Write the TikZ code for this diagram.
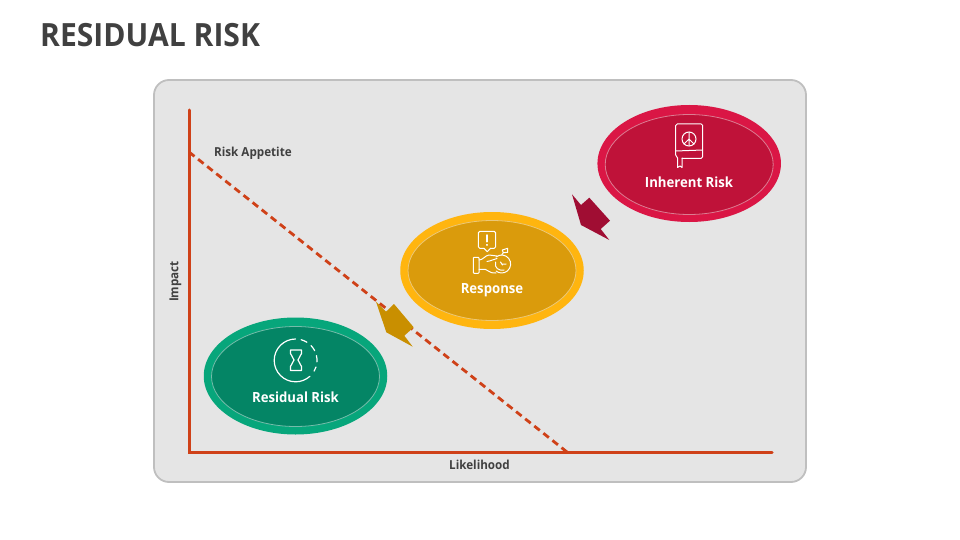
\documentclass[tikz,border=0pt]{standalone}
\usepackage{fontspec}
\setmainfont[FakeStretch=0.94]{Open Sans}
\usetikzlibrary{shapes.geometric}
\definecolor{titlegray}{HTML}{404040}
\definecolor{panelfill}{HTML}{E5E5E5}
\definecolor{panelline}{HTML}{BFBFBF}
\definecolor{axisred}{HTML}{CF4118}
\definecolor{inherentrim}{HTML}{DA1645}
\definecolor{inherentfill}{HTML}{BF1239}
\definecolor{inherentarrow}{HTML}{A00D33}
\definecolor{responserim}{HTML}{FFB50F}
\definecolor{responsefill}{HTML}{DA9B0C}
\definecolor{responsearrow}{HTML}{C98F00}
\definecolor{residualrim}{HTML}{07A67B}
\definecolor{residualfill}{HTML}{048565}
\newcommand{\ovalx}{183.5pt}
\newcommand{\ovaly}{117pt}
\newcommand{\innerx}{168pt}
\newcommand{\innery}{100pt}
\newcommand{\hourradius}{21.4pt}
\tikzset{
  riskoval/.style={ellipse,minimum width=\ovalx,minimum height=\ovaly,inner sep=0pt},
  ringoval/.style={ellipse,draw=white!45!#1,fill=#1,line width=0.8pt,minimum width=\innerx,minimum height=\innery,inner sep=0pt},
  ovallabel/.style={font=\bfseries\fontsize{14}{16}\selectfont,text=white,inner sep=0pt},
  axislabel/.style={font=\bfseries\fontsize{12.4}{14}\selectfont,text=titlegray,inner sep=0pt},
  axisline/.style={draw=axisred,line width=3pt,line cap=round},
  iconline/.style={draw=white,line width=1pt,line cap=round,line join=round},
}
\begin{document}
\begin{tikzpicture}[x=1pt,y=-1pt]
    \useasboundingbox (0,0) rectangle (960,540);
    \node[font=\bfseries\fontsize{32}{36}\selectfont,text=titlegray,anchor=west,inner sep=0pt] (title) at (40,35) {RESIDUAL RISK};
    % grey panel
    \draw[fill=panelfill,draw=panelline,line width=1.8pt,rounded corners=15pt] (154,80) rectangle (806,482);
    % axes
    \coordinate (origin) at (189,452);
    \coordinate (impacttop) at (189,110);
    \coordinate (likelihoodend) at (772,452);
    \coordinate (appetitetop) at (189,152);
    \coordinate (appetitebottom) at (567,452);
    \draw[draw=axisred,line width=2.8pt,dash pattern=on 7pt off 4.6pt] (appetitetop) -- (appetitebottom);
    \draw[axisline] (impacttop) -- (origin) -- (likelihoodend);
    \node[axislabel,anchor=west] (appetite) at (214,153) {Risk Appetite};
    \node[axislabel] (likelihood) at (479.5,465) {Likelihood};
    \node[axislabel,rotate=90] (impact) at (175.5,281.5) {Impact};
    % arrows between the ovals
    \fill[inherentarrow] (572,194.3) -- (581,205) -- (589.3,197.7) -- (610,220.7) -- (600.7,229) -- (609.3,240) -- (581,225) -- cycle;
    \fill[responsearrow] (376,301.7) -- (386,311.7) -- (394,304) -- (413.7,327.3) -- (404.3,335.7) -- (412.7,346.7) -- (386.3,332.3) -- cycle;
    % inherent risk
    \node[riskoval,fill=inherentrim] (inherent) at (689.2,163.5) {};
    \node[ringoval=inherentfill] (inherentring) at (689.2,164.5) {};
    \node[ovallabel] (inherentlabel) at (689,182) {Inherent Risk};
    \begin{scope}[iconline]
      \draw[rounded corners=1.5pt] (675.7,151) -- (675.7,124) -- (702.7,124) -- (702.7,158.3) -- (682,158.3);
      \draw (675.7,151) -- (702.7,150);
      \draw (675.7,151) -- (675.7,155) -- (677.5,158);
      \draw (677.5,158) -- (677.5,167.5) -- (680,166) -- (682,167.5) -- (682,158);
      \draw (689,139) circle (7pt);
      \draw (689,132) -- (689,146) (689,139) -- (684,144) (689,139) -- (694,144);
    \end{scope}
    % response
    \node[riskoval,fill=responserim] (response) at (492,270.5) {};
    \node[ringoval=responsefill] (responsering) at (492,270.5) {};
    \node[ovallabel] (responselabel) at (492,290) {Response};
    \begin{scope}[iconline]
      \draw[rounded corners=1.5pt] (484,248.3) -- (478.3,248.3) -- (478.3,231.3) -- (495.7,231.3) -- (495.7,248.3) -- (490.5,248.3);
      \draw (484,248.3) -- (487.3,251.7) -- (490.5,248.3);
      \draw[line width=1.4pt] (487,235) -- (487,241.8) (487,244.6) -- (487,245.2);
      \draw[rounded corners=0.8pt] (473.3,257.3) rectangle (479,273.3);
      \draw (479,260) .. controls (483,260) and (485,255.5) .. (489,255) -- (497,256);
      \draw (479,269.3) -- (485,269.3) -- (491.7,272.7) -- (496,273);
      \draw (497,258.5) .. controls (494,259) and (491,261) .. (487,261.5);
      \draw (496,257) arc[start angle=129,end angle=-128,radius=9pt];
      \draw (495.5,262) .. controls (494,268) and (499,271) .. (504,270);
      \draw (501.7,264) -- (506,264) (500.5,262) -- (502.5,265);
      \draw (501.7,255) -- (503.3,252.7);
      \draw (502.3,250) -- (507.7,248.3) -- (507.7,252.3) -- (503.3,252.7) -- cycle;
    \end{scope}
    % residual risk
    \node[riskoval,fill=residualrim] (residual) at (295.5,376) {};
    \node[ringoval=residualfill] (residualring) at (295.5,376.5) {};
    \node[ovallabel] (residuallabel) at (295.5,397) {Residual Risk};
    \coordinate (hourcenter) at (295.6,360.4);
    \begin{scope}[iconline]
      \draw[line width=1.2pt] ([shift={(90:\hourradius)}]hourcenter) arc[start angle=90,end angle=312,radius=\hourradius];
      \foreach \from/\to in {75/58,44/27,13/-4,-18/-30}
        \draw[line width=1.2pt] ([shift={(\from:\hourradius)}]hourcenter) arc[start angle=\from,end angle=\to,radius=\hourradius];
      \draw[line width=1.2pt] (290.5,350) -- (301.5,350) -- (301.5,353.5) -- (298,360) -- (301.5,366.5) -- (301.5,370.5) -- (290.5,370.5) -- (290.5,366.5) -- (294,360) -- (290.5,353.5) -- cycle;
    \end{scope}
\end{tikzpicture}
\end{document}
